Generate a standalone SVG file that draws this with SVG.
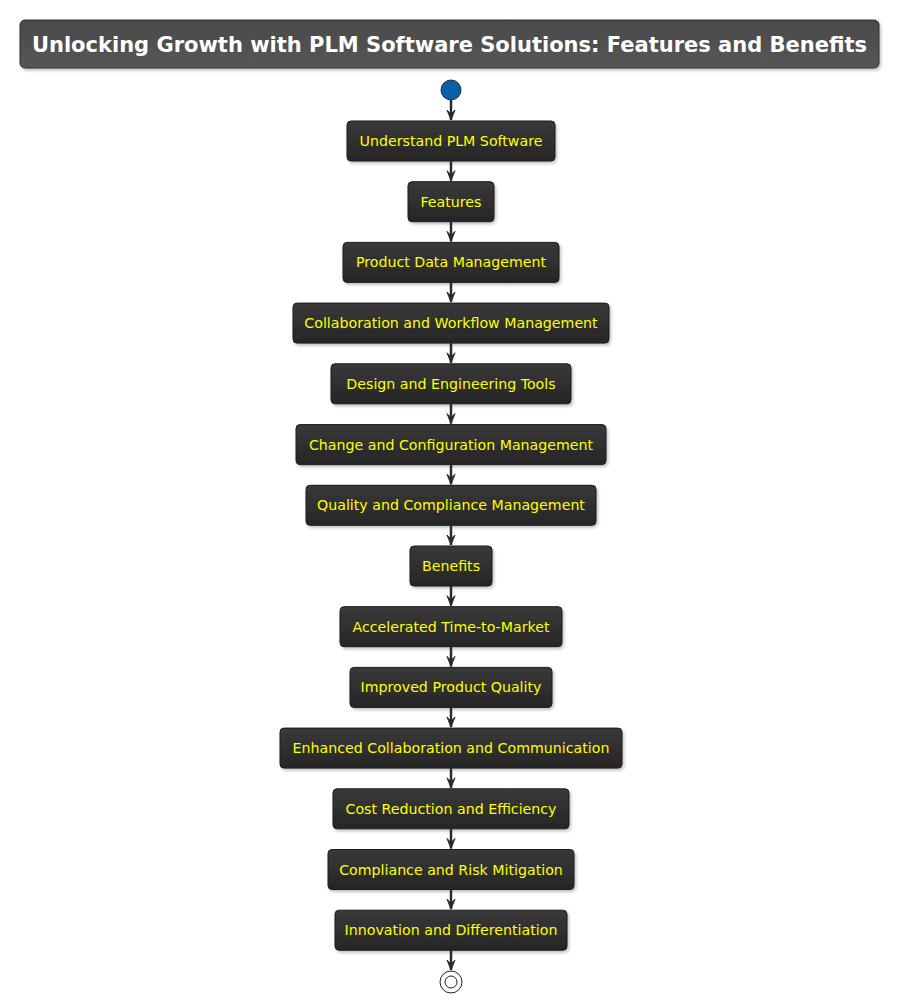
<svg xmlns="http://www.w3.org/2000/svg" width="902" height="1004" viewBox="0 0 902 1004">
<defs>
<linearGradient id="gBox" x1="0" y1="0" x2="0" y2="1"><stop offset="0" stop-color="#393939"/><stop offset="1" stop-color="#262626"/></linearGradient>
<linearGradient id="gTitle" x1="0" y1="0" x2="0" y2="1"><stop offset="0" stop-color="#4a4a4a"/><stop offset="1" stop-color="#565656"/></linearGradient>
<filter id="sh" x="-10%" y="-20%" width="120%" height="150%"><feDropShadow dx="1.5" dy="2" stdDeviation="1.5" flood-color="#000" flood-opacity="0.25"/></filter>
<marker id="ah" viewBox="0 0 12 10" refX="11" refY="5" markerWidth="12" markerHeight="10" markerUnits="userSpaceOnUse" orient="auto">
<polygon points="1,1 11,5 1,9 5,5" fill="#2b2b2b" stroke="#2b2b2b" stroke-width="1"/>
</marker>
</defs>
<style>
.box{fill:url(#gBox);stroke:#1c1c1c;stroke-width:1;filter:url(#sh)}
.lbl{font-family:"DejaVu Sans",Verdana,sans-serif;font-size:14.2px;fill:#FFFF00;text-anchor:middle}
.ttl{font-family:"DejaVu Sans",Verdana,sans-serif;font-size:21px;font-weight:bold;fill:#ffffff;text-anchor:middle}
.edge{stroke:#2b2b2b;stroke-width:2.5;fill:none}
</style>
<rect width="902" height="1004" fill="#ffffff"/>
<g id="title">
<rect x="20" y="20" width="859" height="48" rx="5" fill="url(#gTitle)" stroke="#333333" stroke-width="1" filter="url(#sh)"/>
<text class="ttl" x="449.5" y="52">Unlocking Growth with PLM Software Solutions: Features and Benefits</text>
</g>
<g id="start"><circle cx="451" cy="90" r="10" fill="#0a5fa8" stroke="#1f2f3f" stroke-width="1"/></g>
<g id="n1"><rect class="box" x="347" y="121" width="208" height="40" rx="4"/><text class="lbl" x="451" y="146">Understand PLM Software</text></g>
<g id="n2"><rect class="box" x="408" y="181.7" width="86" height="40" rx="4"/><text class="lbl" x="451" y="206.7">Features</text></g>
<g id="n3"><rect class="box" x="343" y="242.4" width="216" height="40" rx="4"/><text class="lbl" x="451" y="267.4">Product Data Management</text></g>
<g id="n4"><rect class="box" x="293" y="303.1" width="316" height="40" rx="4"/><text class="lbl" x="451" y="328.1">Collaboration and Workflow Management</text></g>
<g id="n5"><rect class="box" x="331" y="363.8" width="240" height="40" rx="4"/><text class="lbl" x="451" y="388.8">Design and Engineering Tools</text></g>
<g id="n6"><rect class="box" x="296" y="424.6" width="310" height="40" rx="4"/><text class="lbl" x="451" y="449.6">Change and Configuration Management</text></g>
<g id="n7"><rect class="box" x="306" y="485.3" width="290" height="40" rx="4"/><text class="lbl" x="451" y="510.3">Quality and Compliance Management</text></g>
<g id="n8"><rect class="box" x="410" y="546" width="82" height="40" rx="4"/><text class="lbl" x="451" y="571">Benefits</text></g>
<g id="n9"><rect class="box" x="340" y="606.7" width="222" height="40" rx="4"/><text class="lbl" x="451" y="631.7">Accelerated Time-to-Market</text></g>
<g id="n10"><rect class="box" x="350" y="667.4" width="202" height="40" rx="4"/><text class="lbl" x="451" y="692.4">Improved Product Quality</text></g>
<g id="n11"><rect class="box" x="280" y="728.1" width="342" height="40" rx="4"/><text class="lbl" x="451" y="753.1">Enhanced Collaboration and Communication</text></g>
<g id="n12"><rect class="box" x="333" y="788.8" width="236" height="40" rx="4"/><text class="lbl" x="451" y="813.8">Cost Reduction and Efficiency</text></g>
<g id="n13"><rect class="box" x="328" y="849.5" width="246" height="40" rx="4"/><text class="lbl" x="451" y="874.5">Compliance and Risk Mitigation</text></g>
<g id="n14"><rect class="box" x="335" y="910.2" width="232" height="40" rx="4"/><text class="lbl" x="451" y="935.2">Innovation and Differentiation</text></g>
<g id="end"><circle cx="451" cy="982" r="11" fill="none" stroke="#222222" stroke-width="1"/><circle cx="451" cy="982" r="6" fill="none" stroke="#222222" stroke-width="1"/></g>
<g id="connectors">
<line class="edge" x1="451" y1="100" x2="451" y2="120" marker-end="url(#ah)"/>
<line class="edge" x1="451" y1="161" x2="451" y2="180.7" marker-end="url(#ah)"/>
<line class="edge" x1="451" y1="221.7" x2="451" y2="241.4" marker-end="url(#ah)"/>
<line class="edge" x1="451" y1="282.4" x2="451" y2="302.1" marker-end="url(#ah)"/>
<line class="edge" x1="451" y1="343.1" x2="451" y2="362.8" marker-end="url(#ah)"/>
<line class="edge" x1="451" y1="403.8" x2="451" y2="423.6" marker-end="url(#ah)"/>
<line class="edge" x1="451" y1="464.6" x2="451" y2="484.3" marker-end="url(#ah)"/>
<line class="edge" x1="451" y1="525.3" x2="451" y2="545" marker-end="url(#ah)"/>
<line class="edge" x1="451" y1="586" x2="451" y2="605.7" marker-end="url(#ah)"/>
<line class="edge" x1="451" y1="646.7" x2="451" y2="666.4" marker-end="url(#ah)"/>
<line class="edge" x1="451" y1="707.4" x2="451" y2="727.1" marker-end="url(#ah)"/>
<line class="edge" x1="451" y1="768.1" x2="451" y2="787.8" marker-end="url(#ah)"/>
<line class="edge" x1="451" y1="828.8" x2="451" y2="848.5" marker-end="url(#ah)"/>
<line class="edge" x1="451" y1="889.5" x2="451" y2="909.2" marker-end="url(#ah)"/>
<line class="edge" x1="451" y1="950.2" x2="451" y2="970" marker-end="url(#ah)"/>
</g>
</svg>
